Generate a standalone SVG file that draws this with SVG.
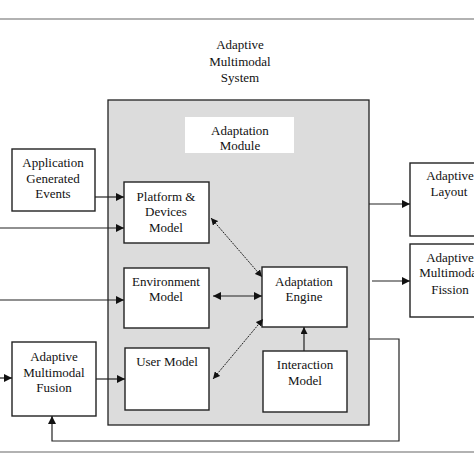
<svg xmlns="http://www.w3.org/2000/svg" width="474" height="474" viewBox="0 0 474 474">
<defs>
<marker id="ah" viewBox="0 0 10 10" refX="10" refY="5" markerWidth="8" markerHeight="8" markerUnits="userSpaceOnUse" orient="auto-start-reverse">
<path d="M0,0 L10,5 L0,10 z" fill="#111"/>
</marker>
<marker id="ahs" viewBox="0 0 10 10" refX="10" refY="5" markerWidth="7" markerHeight="7" markerUnits="userSpaceOnUse" orient="auto-start-reverse">
<path d="M0,0 L10,5 L0,10 z" fill="#111"/>
</marker>
</defs>
<style>
text{font-family:"Liberation Serif","Times New Roman",serif;font-size:13px;fill:#111;text-anchor:middle}
.box{fill:#fff;stroke:#222;stroke-width:1.4}
.c{fill:none;stroke:#222;stroke-width:1.2}
.d{fill:none;stroke:#222;stroke-width:1;stroke-dasharray:2 1}
.rule{stroke:#666;stroke-width:1.2}
</style>
<rect width="474" height="474" fill="#fff"/>
<line class="rule" x1="0" y1="19" x2="474" y2="19"/>
<line class="rule" x1="0" y1="452" x2="474" y2="452"/>

<g id="system-label">
<text x="240" y="49">Adaptive</text>
<text x="240" y="66">Multimodal</text>
<text x="240" y="82">System</text>
</g>

<g id="adaptation-module">
<rect x="108" y="100" width="261" height="325" fill="#dcdcdc" stroke="#222" stroke-width="1.3"/>
<rect x="185" y="117" width="109" height="36" fill="#fff"/>
<text x="240" y="135">Adaptation</text>
<text x="240" y="150">Module</text>
</g>

<g id="app-events">
<rect class="box" x="12" y="149" width="83" height="62"/>
<text x="53" y="167">Application</text>
<text x="53" y="183">Generated</text>
<text x="53" y="198">Events</text>
</g>

<g id="platform">
<rect class="box" x="124" y="182" width="85" height="61"/>
<text x="166" y="201">Platform &amp;</text>
<text x="166" y="216">Devices</text>
<text x="166" y="232">Model</text>
</g>

<g id="environment">
<rect class="box" x="124" y="268" width="85" height="60"/>
<text x="166" y="286">Environment</text>
<text x="166" y="301">Model</text>
</g>

<g id="user-model">
<rect class="box" x="125" y="348" width="84" height="62"/>
<text x="167" y="366">User Model</text>
</g>

<g id="engine">
<rect class="box" x="262" y="267" width="85" height="60"/>
<text x="304" y="286">Adaptation</text>
<text x="304" y="301">Engine</text>
</g>

<g id="interaction">
<rect class="box" x="263" y="351" width="84" height="61"/>
<text x="305" y="369">Interaction</text>
<text x="305" y="385">Model</text>
</g>

<g id="fusion">
<rect class="box" x="12" y="342" width="84" height="74"/>
<text x="54" y="361">Adaptive</text>
<text x="54" y="377">Multimodal</text>
<text x="54" y="392">Fusion</text>
</g>

<g id="layout">
<rect class="box" x="410" y="163" width="80" height="73"/>
<text x="450" y="180">Adaptive</text>
<text x="449" y="196">Layout</text>
</g>

<g id="fission">
<rect class="box" x="410" y="244" width="80" height="73"/>
<text x="450" y="262">Adaptive</text>
<text x="450" y="277">Multimodal</text>
<text x="450" y="294">Fission</text>
</g>

<g id="connectors">
<line class="c" x1="95" y1="197" x2="124" y2="197" marker-end="url(#ah)"/>
<line class="c" x1="0" y1="228" x2="124" y2="228" marker-end="url(#ah)"/>
<line class="c" x1="0" y1="300" x2="124" y2="300" marker-end="url(#ah)"/>
<line class="c" x1="0" y1="378" x2="12" y2="378" marker-end="url(#ah)"/>
<line class="c" x1="96" y1="379" x2="125" y2="379" marker-end="url(#ah)"/>
<line class="d" x1="211" y1="218" x2="262" y2="277" marker-start="url(#ahs)" marker-end="url(#ahs)"/>
<line class="c" x1="213" y1="296" x2="262" y2="296" stroke-width="1.6" marker-start="url(#ah)" marker-end="url(#ah)"/>
<line class="d" x1="213" y1="379" x2="263" y2="319" marker-start="url(#ahs)" marker-end="url(#ahs)"/>
<line class="c" x1="304" y1="351" x2="304" y2="327" marker-end="url(#ahs)"/>
<line class="c" x1="369" y1="204" x2="410" y2="204" marker-end="url(#ah)"/>
<line class="c" x1="372" y1="281" x2="410" y2="281" marker-end="url(#ah)"/>
<polyline class="c" points="369,339 399,339 399,441 52,441 52,416" marker-end="url(#ah)"/>
</g>
</svg>
